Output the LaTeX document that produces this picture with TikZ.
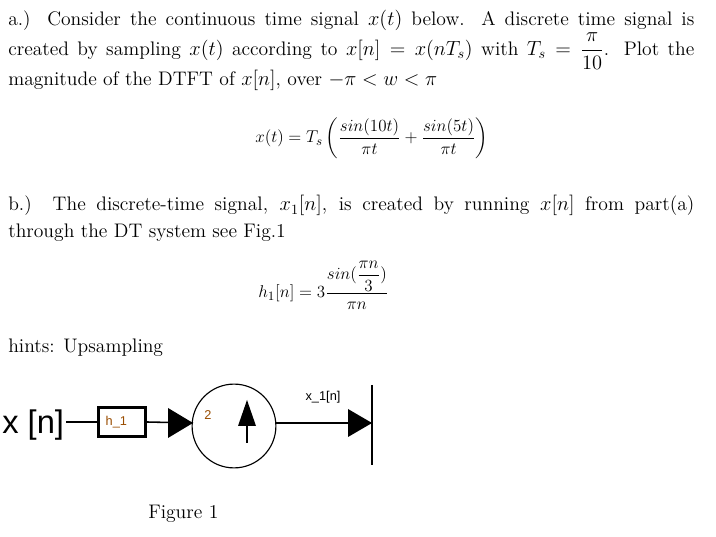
\documentclass[tikz,border=0pt]{standalone}
\usepackage{amsmath}
\usepackage{fontspec}
\newfontfamily\arialf{Liberation Sans}
\begin{document}
\begin{tikzpicture}[x=0.704pt,y=-0.704pt,
  txt/.style={anchor=base west,inner sep=0pt,font=\fontsize{13.8}{19}\selectfont},
  eqn/.style={anchor=base west,inner sep=0pt,font=\fontsize{12.3}{17}\selectfont},
  wire/.style={line width=1.1pt},
  tri/.style={fill=black,draw=none}]
\useasboundingbox (0,0) rectangle (716,537);
\node[txt,text width=483pt,align=justify] (pa) at (8,26) {a.) Consider the continuous time signal $x(t)$ below. A discrete time signal is\linebreak created by sampling $x(t)$ according to $x[n]=x(nT_s)$ with $T_s=\dfrac{\pi}{10}$. Plot the\linebreak magnitude of the DTFT of $x[n]$, over $-\pi<w<\pi$};
\node[eqn] (eq1) at (255,143) {$x(t)=T_s\left(\dfrac{sin(10t)}{\pi t}+\dfrac{sin(5t)}{\pi t}\right)$};
\node[txt,text width=483pt,align=justify] (pb) at (8,211) {b.) The discrete-time signal, $x_1[n]$, is created by running $x[n]$ from part(a)\linebreak through the DT system see Fig.1};
\node[eqn,font=\fontsize{13}{17}\selectfont] (eq2) at (258,298) {$h_1[n]=3\dfrac{sin(\dfrac{\pi n}{3})}{\pi n}$};
\node[txt] (hint) at (8,353) {hints: Upsampling};
% figure
\node[anchor=base west,inner sep=0pt,font=\arialf\fontsize{23}{26}\selectfont] (xn) at (2,434) {x [n]};
\node[draw,line width=2.2pt,minimum width=33pt,minimum height=20pt,inner sep=0pt,font=\arialf\fontsize{9}{11}\selectfont,text=orange!60!black] (h) at (122,422) {\hspace*{-8pt}h\_1};
\node[draw,circle,line width=0.8pt,minimum size=59pt] (up) at (234,426) {};
\node[font=\arialf\fontsize{9}{11}\selectfont,text=orange!60!black] (two) at (208,415) {2};
\coordinate (end) at (372,423);
\draw[wire] (xn.east|-h) ++(2,0) -- (h.west);
\draw[wire] (h.east) -- (193,423);
\fill[tri] (168,408) -- (193,423) -- (168,438) -- cycle;
\draw[wire] (275,423) -- (end);
\fill[tri] (348,409) -- (372,423) -- (348,437) -- cycle;
\draw[line width=0.8pt] (372,385) -- (372,465);
\draw[line width=1.5pt] (247,443) -- (247,420);
\fill[tri] (238,426) -- (247,400) -- (256,426) -- cycle;
\node[font=\arialf\fontsize{9}{11}\selectfont] (x1) at (323,397) {x\_1[n]};
\node[txt] (fig) at (148,519) {Figure 1};
\end{tikzpicture}
\end{document}
